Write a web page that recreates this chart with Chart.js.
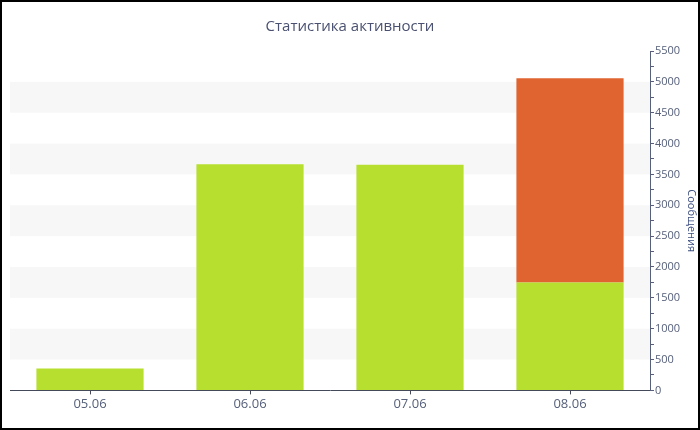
<!DOCTYPE html>
<html>
<head>
<meta charset="utf-8">
<script src="https://cdn.jsdelivr.net/npm/chart.js@4/dist/chart.umd.min.js"></script>
<style>
    html, body { margin: 0; padding: 0; background: #fff; }
    #wrap {
        width: 700px; height: 430px; box-sizing: border-box;
        border: 2px solid #000; background: #fff;
    }
    #chart { display: block; }
</style>
</head>
<body>
<div id="wrap"><canvas id="chart" width="696" height="426"></canvas></div>
<script>
const days = ['05.06', '06.06', '07.06', '08.06'];
const firstPart = [355, 3665, 3655, 1750];
const secondPart = [0, 0, 0, 3310];
const axisMax = 5500;
const axisStep = 250;

const textColor = '#56607a';
const fontFamily = '"Open Sans", "DejaVu Sans", sans-serif';

// light stripes every other 500 interval, placed through the y scale
const stripes = {
    id: 'stripes',
    beforeDatasetsDraw(chart) {
        const { ctx, chartArea, scales } = chart;
        const y = scales.y;
        ctx.save();
        ctx.fillStyle = '#f7f7f8';
        for (let v = 500; v < axisMax; v += 1000) {
            const top = y.getPixelForValue(v + 500);
            const bottom = y.getPixelForValue(v);
            ctx.fillRect(chartArea.left, top, chartArea.right - chartArea.left, bottom - top);
        }
        ctx.restore();
    }
};

new Chart(document.getElementById('chart'), {
    type: 'bar',
    data: {
        labels: days,
        datasets: [{
            label: 'a',
            data: firstPart,
            xAxisID: 'x',
            yAxisID: 'y',
            backgroundColor: '#b6df2f',
            borderWidth: 0,
            barPercentage: 0.67,
            categoryPercentage: 1
        }, {
            label: 'b',
            data: secondPart,
            xAxisID: 'x',
            yAxisID: 'y',
            backgroundColor: '#e06430',
            borderWidth: 0,
            barPercentage: 0.67,
            categoryPercentage: 1
        }]
    },
    options: {
        responsive: false,
        animation: false,
        layout: {
            padding: { left: 0, right: 0, top: 0, bottom: 14 }
        },
        plugins: {
            legend: { display: false },
            tooltip: { enabled: false },
            title: {
                display: true,
                text: 'Статистика активности',
                color: '#4a5170',
                font: { family: fontFamily, size: 15, weight: 'normal' },
                padding: { top: 16, bottom: 15 }
            }
        },
        scales: {
            x: {
                stacked: true,
                grid: {
                    display: true,
                    offset: false,
                    drawOnChartArea: false,
                    tickLength: 4,
                    color: '#444a5a'
                },
                border: { color: '#444a5a', width: 1 },
                ticks: {
                    color: textColor,
                    padding: 2,
                    font: { family: fontFamily, size: 13 }
                }
            },
            y: {
                stacked: true,
                position: 'right',
                min: 0,
                max: axisMax,
                afterFit(scale) {
                    scale.width = 48;
                },
                grid: {
                    drawOnChartArea: false,
                    tickLength: 4,
                    color: '#56607a'
                },
                border: { color: '#56607a', width: 1 },
                ticks: {
                    stepSize: axisStep,
                    autoSkip: false,
                    color: textColor,
                    padding: 1,
                    font: { family: fontFamily, size: 11 },
                    callback: (v) => (v % 500 === 0 ? v : '')
                },
                title: {
                    display: true,
                    text: 'Сообщения',
                    color: '#3e4f80',
                    font: { family: fontFamily, size: 11 },
                    padding: { top: 0, bottom: 0 }
                }
            },
            // empty spacer on the left so the title stays centred on the canvas
            spacer: {
                type: 'linear',
                position: 'left',
                display: true,
                grid: { display: false },
                border: { display: false },
                ticks: { display: false },
                afterFit(scale) {
                    scale.width = 8;
                }
            }
        }
    },
    plugins: [stripes]
});
</script>
</body>
</html>
